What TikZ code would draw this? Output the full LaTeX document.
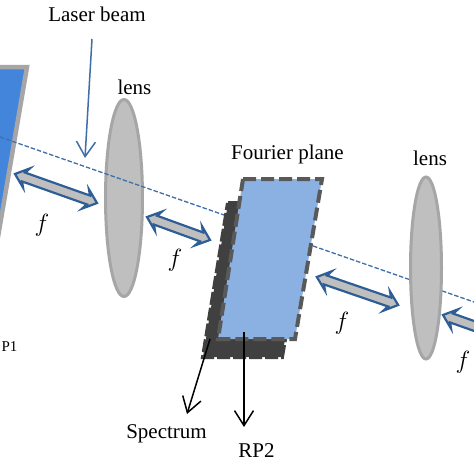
\documentclass[tikz,border=0pt]{standalone}
\usepackage{fontspec}
\setmainfont{Liberation Serif}
\usepackage{xcolor}
\usetikzlibrary{shapes.geometric,shapes.arrows,arrows.meta,positioning}
\definecolor{beamblue}{HTML}{3F6FA8}
\definecolor{arrowblue}{HTML}{2F5E96}
\definecolor{lensgray}{HTML}{BFBFBF}
\definecolor{edgegray}{HTML}{A6A6A6}
\definecolor{planeblue}{HTML}{8BB0E2}
\definecolor{maskblue}{HTML}{4485DC}
\definecolor{darkgray}{HTML}{404040}
\definecolor{dashgray}{HTML}{595959}

\begin{document}
\begin{tikzpicture}[
    x=1pt, y=-1pt,
    lens/.style={draw=edgegray, fill=lensgray, ellipse, line width=3pt, inner sep=0pt},
    txt/.style={font=\fontsize{21}{23}\selectfont, inner sep=0pt},
    focal/.style={font=\fontsize{28}{30}\selectfont, inner sep=0pt},
    span/.style={draw=arrowblue, fill=lensgray, line width=2.2pt, double arrow, inner xsep=0pt, inner ysep=3.6pt,
        double arrow head extend=5.5pt, double arrow head indent=3pt, double arrow tip angle=80},
    beam/.style={draw=beamblue, line width=1.3pt, dash pattern=on 4.5pt off 2pt},
    laser/.style={draw=beamblue, line width=1.5pt, -{Straight Barb[length=15pt,width=19pt]}},
    outarrow/.style={draw=black, line width=1.5pt, -{Straight Barb[length=15pt,width=19pt]}}
]
    \clip (0,0) rectangle (474,474);
    \fill[white] (0,0) rectangle (474,474);

    \draw[draw=edgegray, fill=maskblue, line width=4.5pt] (-10,67) -- (27,67) -- (-8,272) -- (-10,272) -- cycle;

    \node[lens, minimum width=37pt, minimum height=197pt] (lensA) at (124,198) {};
    \coordinate (beamA) at (0,137);
    \coordinate (beamB) at (474,302);
    \draw[beam] (beamA) -- (beamB);
    \node[lens, minimum width=31pt, minimum height=182pt] (lensB) at (426,268) {};

    \draw[draw=darkgray, fill=darkgray, line width=4pt, dash pattern=on 13pt off 3pt]
        (228,203) -- (308,203) -- (282,357) -- (203,357) -- cycle;
    \draw[draw=dashgray, fill=planeblue, line width=4pt, dash pattern=on 13pt off 5pt]
        (243,179) -- (322,179) -- (295,339) -- (218,339) -- cycle;

    \node[span, minimum height=87pt, rotate=-19.5] (spanA) at (56,188.5) {};
    \node[span, minimum height=67pt, rotate=-20] (spanB) at (178.5,228.5) {};
    \node[span, minimum height=86pt, rotate=-19] (spanC) at (357.5,291) {};
    \node[span, minimum height=87pt, rotate=-19.5] (spanD) at (484,329.5) {};

    \node[focal] (fA) at (42,225) {$f$};
    \node[focal] (fB) at (175,260) {$f$};
    \node[focal] (fC) at (342,323) {$f$};
    \node[focal] (fD) at (463,362) {$f$};

    \node[txt] (beamlabel) at (97,14) {Laser beam};
    \node[txt, above=3pt of lensA, xshift=10.5pt] (lensAlabel) {lens};
    \node[txt, above=9.5pt of lensB, xshift=4pt] (lensBlabel) {lens};
    \node[txt] (planelabel) at (287.5,154) {Fourier plane};
    \node[txt] (spectrum) at (166.5,434) {Spectrum};
    \node[txt] (rptwo) at (256.5,451) {RP2};
    \node[font=\fontsize{15}{17}\selectfont, inner sep=0pt] (rpone) at (9.5,347) {P1};

    \coordinate (laserstart) at (92,39);
    \coordinate (lasertip) at (85,158);
    \coordinate (specstart) at (210,339);
    \coordinate (spectip) at (187,414);
    \coordinate (rpstart) at (244,332);
    \coordinate (rptip) at (244,427);

    \draw[laser] (laserstart) -- (lasertip);
    \draw[outarrow] (specstart) -- (spectip);
    \draw[outarrow] (rpstart) -- (rptip);
\end{tikzpicture}
\end{document}
